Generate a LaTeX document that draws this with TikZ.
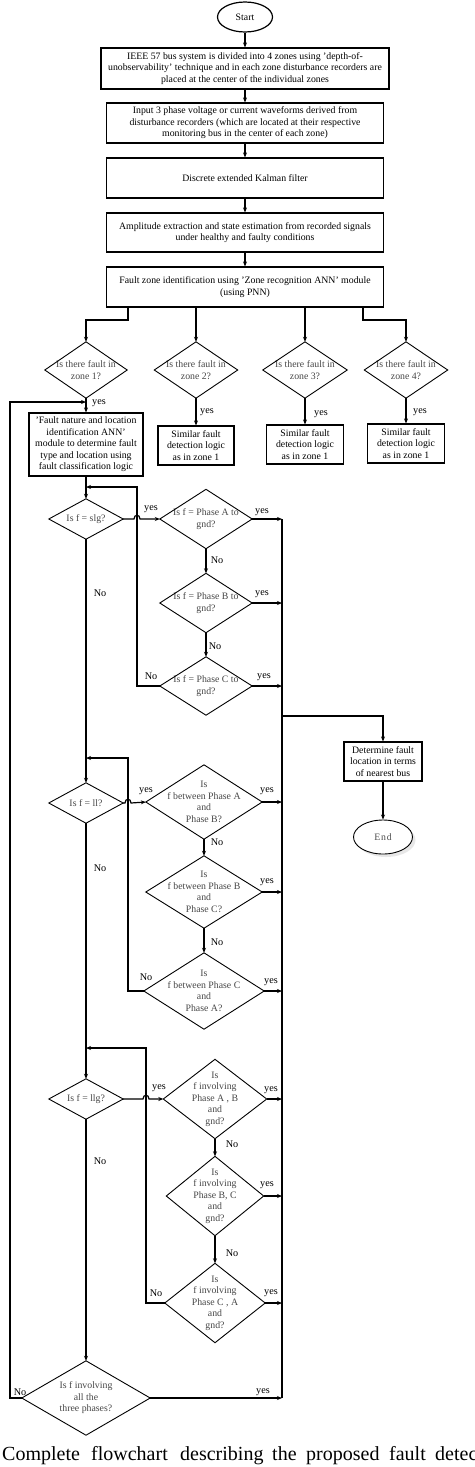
\documentclass[tikz,border=0pt]{standalone}
\usepackage{fontspec}
\setmainfont{Liberation Serif}
\usetikzlibrary{arrows.meta,shapes.geometric,shadows}
\newcommand\mydia[5]{%
  \node[dtx, minimum width=#3, minimum height=#4] (#1) at (#2) {#5};
  \draw[dline] (#1.north)--(#1.east)--(#1.south)--(#1.west)--cycle;}
\begin{document}
\begin{tikzpicture}[x=1pt,y=-1pt,
  txt/.style={font=\fontsize{9.8}{11.5}\selectfont},
  box/.style={txt, draw, line width=1.2pt, inner sep=0pt, align=center},
  dtx/.style={txt, inner sep=0pt, align=center, text=black!72},
  dline/.style={line width=0.9pt},
  ln/.style={line width=1.2pt},
  arr/.style={ln, -{Stealth[length=5pt,width=4pt]}},
  lab/.style={font=\fontsize{10.2}{12}\selectfont, inner sep=0pt},
  captext/.style={font=\fontsize{20}{23}\selectfont, anchor=base west, inner sep=0pt}]
\useasboundingbox (0,0) rectangle (474,1467);
\fill[white] (0,0) rectangle (474,1467);

% top chain
\node[ellipse, draw, line width=1.2pt, minimum width=55pt, minimum height=30pt, inner sep=0pt, txt] (start) at (245,17) {Start};
\node[box, minimum width=288pt, minimum height=41pt] (b1) at (245,68.5) {IEEE 57 bus system is divided into 4 zones using 'depth-of-\\unobservability' technique and in each zone disturbance recorders are\\placed at the center of the individual zones};
\node[box, minimum width=277pt, minimum height=40pt] (b2) at (245,123) {Input 3 phase voltage or current waveforms derived from\\disturbance recorders (which are located at their respective\\monitoring bus in the center of each zone)};
\node[box, minimum width=277pt, minimum height=40pt] (b3) at (245,178) {Discrete extended Kalman filter};
\node[box, minimum width=277pt, minimum height=39pt] (b4) at (245,232.5) {Amplitude extraction and state estimation from recorded signals\\under healthy and faulty conditions};
\node[box, minimum width=277pt, minimum height=40pt] (b5) at (245,287) {Fault zone identification using 'Zone recognition ANN' module\\(using PNN)};
\draw[arr] (start) -- (b1);
\draw[arr] (b1) -- (b2);
\draw[arr] (b2) -- (b3);
\draw[arr] (b3) -- (b4);
\draw[arr] (b4) -- (b5);

% zones
\mydia{z1}{86,370}{82pt}{56pt}{Is there fault in\\zone 1?}
\mydia{z2}{196,370}{83pt}{56pt}{Is there fault in\\zone 2?}
\mydia{z3}{305,370}{84pt}{56pt}{Is there fault in\\zone 3?}
\mydia{z4}{406,370}{83pt}{56pt}{Is there fault in\\zone 4?}
\coordinate (o1) at (128,307);
\coordinate (o4) at (363,307);
\draw[arr] (o1) -- ++(0,13) -| (z1.north);
\draw[arr] (b5.south -| z2.north) -- (z2.north);
\draw[arr] (b5.south -| z3.north) -- (z3.north);
\draw[arr] (o4) -- ++(0,13) -| (z4.north);

\node[box, minimum width=114pt, minimum height=63pt] (fb) at (86,444.5) {'Fault nature and location\\identification ANN'\\module to determine fault\\type and location using\\fault classification logic};
\node[box, minimum width=76pt, minimum height=39pt] (s2) at (196,445.5) {Similar fault\\detection logic\\as in zone 1};
\node[box, minimum width=77pt, minimum height=39pt] (s3) at (305,444.5) {Similar fault\\detection logic\\as in zone 1};
\node[box, minimum width=77pt, minimum height=39pt] (s4) at (406,443.5) {Similar fault\\detection logic\\as in zone 1};
\draw[arr] (z1.south) -- (fb.north);
\draw[arr] (z2.south) -- (s2.north);
\draw[arr] (z3.south) -- (s3.north);
\draw[arr] (z4.south) -- (s4.north);
\node[lab] at (99,403) {yes};
\node[lab] at (207,412) {yes};
\node[lab] at (321,414) {yes};
\node[lab] at (420,412) {yes};

% slg block
\mydia{slg}{86,519}{74pt}{40pt}{Is f = slg?}
\mydia{pA}{206,519}{92pt}{59pt}{Is f = Phase A to\\gnd?}
\mydia{pB}{206,603}{92pt}{59pt}{Is f = Phase B to\\gnd?}
\mydia{pC}{206,686}{92pt}{58pt}{Is f = Phase C to\\gnd?}
% ll block
\mydia{ll}{86,803}{74pt}{40pt}{Is f = ll?}
\mydia{pAB}{204,802}{116pt}{74pt}{Is\\f between Phase A\\and\\Phase B?}
\mydia{pBC}{204,892}{116pt}{72pt}{Is\\f between Phase B\\and\\Phase C?}
\mydia{pCA}{204,991}{120pt}{76pt}{Is\\f between Phase C\\and\\Phase A?}
% llg block
\mydia{llg}{86,1099}{74pt}{40pt}{Is f = llg?}
\mydia{pABg}{215,1099}{103pt}{79pt}{Is\\f involving\\Phase A , B\\and\\gnd?}
\mydia{pBCg}{215,1196}{97pt}{79pt}{Is\\f involving\\Phase B, C\\and\\gnd?}
\mydia{pCAg}{215,1303}{100pt}{79pt}{Is\\f involving\\Phase C , A\\and\\gnd?}
% three phases
\mydia{three}{86,1398}{128pt}{74pt}{Is f involving\\all the\\three phases?}

% right-hand end
\node[box, minimum width=78pt, minimum height=39pt] (det) at (383,761.5) {Determine fault\\location in terms\\of nearest bus};
\node[ellipse, draw, line width=0.9pt, fill=white, minimum width=59pt, minimum height=34pt, inner sep=0pt, txt, text=black!70,
  drop shadow={shadow xshift=3pt, shadow yshift=-3pt, fill=black!18}] (endn) at (383,837) {E\kern0.8pt n\kern0.8pt d};

% collector line
\coordinate (cx) at (282,519);
\coordinate (cb) at (282,1398);
\coordinate (cm) at (282,716);
\draw[ln] (cx) -- (cb);
\draw[arr] (cm) -| (det.north);
\draw[arr] (det.south) -- (endn.north);

% junction points on the main column
\coordinate (j0) at (86,402);
\coordinate (j1) at (86,487);
\coordinate (j2) at (86,758);
\coordinate (j3) at (86,1048);
\coordinate (k0) at (10,402);
\coordinate (k1) at (137,487);
\coordinate (k2) at (128,758);
\coordinate (k3) at (146,1048);

% main column
\draw[arr] (fb.south) -- (slg.north);
\draw[arr] (slg.south) -- (ll.north);
\draw[arr] (ll.south) -- (llg.north);
\draw[arr] (llg.south) -- (three.north);

% loops
\draw[arr] (pC.west) -| (k1) -- (j1);
\draw[arr] (pCA.west) -| (k2) -- (j2);
\draw[arr] (pCAg.west) -| (k3) -- (j3);
\draw[arr] (three.west) -| (k0) -- (j0);

% yes branches with jumps
\draw[arr] (slg.east) -- (134,519) .. controls (134,514) and (140,514) .. (140,519) -- (pA.west);
\draw[arr] (ll.east) -- (125,803) .. controls (125,798) and (131,798) .. (131,803) -- (pAB.west);
\draw[arr] (llg.east) -- (143,1099) .. controls (143,1094) and (149,1094) .. (149,1099) -- (pABg.west);

% chains
\draw[arr] (pA.south) -- (pB.north);
\draw[arr] (pB.south) -- (pC.north);
\draw[arr] (pAB.south) -- (pBC.north);
\draw[arr] (pBC.south) -- (pCA.north);
\draw[arr] (pABg.south) -- (pBCg.north);
\draw[arr] (pBCg.south) -- (pCAg.north);

% into the collector
\foreach \n in {pA,pB,pC,pAB,pBC,pCA,pABg,pBCg,pCAg,three}
  \draw[arr] (\n.east) -- (\n.east -| cx);

% labels
\node[lab] at (151,509) {yes};
\node[lab] at (262,512) {yes};
\node[lab] at (217,560) {No};
\node[lab] at (100,593) {No};
\node[lab] at (262,594) {yes};
\node[lab] at (215,646) {No};
\node[lab] at (151,676) {No};
\node[lab] at (264,677) {yes};
\node[lab] at (146,791) {yes};
\node[lab] at (267,791) {yes};
\node[lab] at (217,842) {No};
\node[lab] at (100,868) {No};
\node[lab] at (267,882) {yes};
\node[lab] at (217,942) {No};
\node[lab] at (146,977) {No};
\node[lab] at (271,982) {yes};
\node[lab] at (159,1088) {yes};
\node[lab] at (271,1090) {yes};
\node[lab] at (232,1144) {No};
\node[lab] at (100,1161) {No};
\node[lab] at (267,1185) {yes};
\node[lab] at (232,1253) {No};
\node[lab] at (156,1293) {No};
\node[lab] at (271,1293) {yes};
\node[lab] at (20,1392) {No};
\node[lab] at (263,1392) {yes};

% caption (cut off at the right edge, as in the reference)
\node[captext] (c1) at (2,1460) {Complete};
\node[captext] (c2) at (91,1460) {flowchart};
\node[captext] (c3) at (180,1460) {describing};
\node[captext] (c4) at (272,1460) {the};
\node[captext] (c5) at (306,1460) {proposed};
\node[captext] (c6) at (389,1460) {fault};
\node[captext] (c7) at (435,1460) {detec};
\end{tikzpicture}
\end{document}
